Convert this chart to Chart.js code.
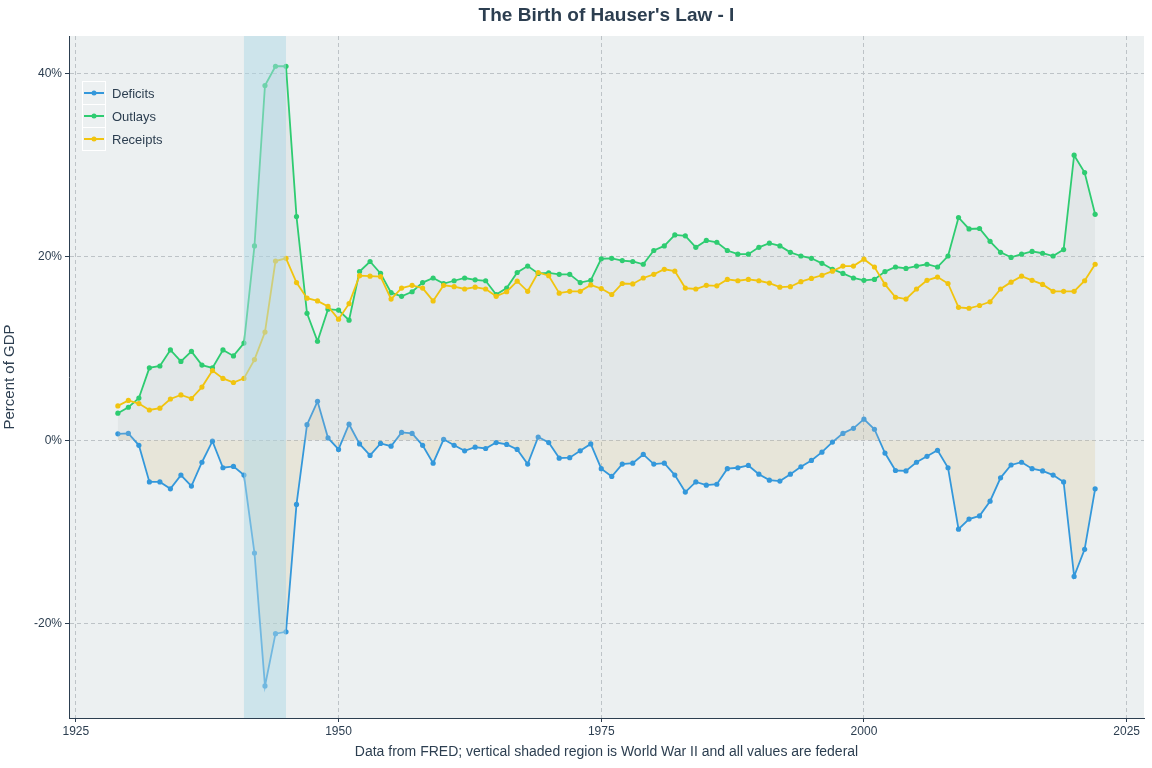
<!DOCTYPE html>
<html>
<head>
<meta charset="utf-8">
<script src="https://cdn.jsdelivr.net/npm/chart.js@4.4.0/dist/chart.umd.min.js"></script>
<style>
  html, body { margin: 0; padding: 0; background: #fff; }
  #wrap { width: 1152px; height: 768px; }
</style>
</head>
<body>
<div id="wrap"><canvas id="chart" width="1152" height="768"></canvas></div>
<script>
const years = [
  1929,
  1930, 1931, 1932, 1933, 1934, 1935, 1936, 1937, 1938, 1939,
  1940, 1941, 1942, 1943, 1944, 1945, 1946, 1947, 1948, 1949,
  1950, 1951, 1952, 1953, 1954, 1955, 1956, 1957, 1958, 1959,
  1960, 1961, 1962, 1963, 1964, 1965, 1966, 1967, 1968, 1969,
  1970, 1971, 1972, 1973, 1974, 1975, 1976, 1977, 1978, 1979,
  1980, 1981, 1982, 1983, 1984, 1985, 1986, 1987, 1988, 1989,
  1990, 1991, 1992, 1993, 1994, 1995, 1996, 1997, 1998, 1999,
  2000, 2001, 2002, 2003, 2004, 2005, 2006, 2007, 2008, 2009,
  2010, 2011, 2012, 2013, 2014, 2015, 2016, 2017, 2018, 2019,
  2020, 2021, 2022
];

const deficits = [
  0.7,
  0.75, -0.55, -4.55, -4.55, -5.3, -3.8, -5.0, -2.4, -0.1, -3.0,
  -2.85, -3.8, -12.3, -26.8, -21.1, -20.9, -7.0, 1.7, 4.25, 0.25,
  -1.0, 1.75, -0.4, -1.65, -0.35, -0.65, 0.85, 0.75, -0.55, -2.5,
  0.1, -0.55, -1.15, -0.75, -0.9, -0.25, -0.45, -1.0, -2.6, 0.35,
  -0.25, -1.95, -1.9, -1.15, -0.4, -3.1, -3.95, -2.6, -2.5, -1.55,
  -2.6, -2.5, -3.8, -5.65, -4.55, -4.9, -4.8, -3.1, -3.0, -2.75,
  -3.7, -4.35, -4.45, -3.7, -2.9, -2.2, -1.3, -0.2, 0.75, 1.3,
  2.3, 1.2, -1.4, -3.3, -3.35, -2.4, -1.75, -1.1, -3.0, -9.7,
  -8.6, -8.25, -6.65, -4.1, -2.7, -2.4, -3.1, -3.35, -3.8, -4.55,
  -14.85, -11.9, -5.3
];

const outlays = [
  2.95,
  3.6, 4.6, 7.9, 8.1, 9.85, 8.6, 9.7, 8.2, 7.9, 9.85,
  9.2, 10.6, 21.2, 38.7, 40.8, 40.8, 24.4, 13.85, 10.8, 14.3,
  14.2, 13.1, 18.4, 19.5, 18.2, 16.1, 15.7, 16.2, 17.2, 17.7,
  17.1, 17.4, 17.7, 17.5, 17.4, 15.9, 16.6, 18.3, 19.0, 18.2,
  18.25, 18.1, 18.1, 17.2, 17.45, 19.8, 19.85, 19.6, 19.5, 19.2,
  20.7, 21.2, 22.4, 22.3, 21.05, 21.8, 21.6, 20.7, 20.3, 20.3,
  21.05, 21.5, 21.2, 20.5, 20.1, 19.85, 19.3, 18.65, 18.2, 17.7,
  17.45, 17.55, 18.4, 18.9, 18.75, 19.0, 19.2, 18.9, 20.1, 24.3,
  23.05, 23.1, 21.7, 20.5, 19.95, 20.3, 20.6, 20.4, 20.1, 20.8,
  31.1, 29.2, 24.65
];

const receipts = [
  3.75,
  4.35, 4.0, 3.3, 3.5, 4.5, 4.95, 4.55, 5.8, 7.6, 6.75,
  6.3, 6.75, 8.8, 11.8, 19.55, 19.85, 17.2, 15.5, 15.2, 14.6,
  13.2, 14.9, 17.95, 17.9, 17.85, 15.4, 16.6, 16.9, 16.6, 15.2,
  16.9, 16.75, 16.5, 16.7, 16.5, 15.7, 16.2, 17.35, 16.25, 18.3,
  17.95, 16.05, 16.25, 16.25, 16.95, 16.55, 15.9, 17.1, 17.05, 17.7,
  18.1, 18.65, 18.45, 16.6, 16.5, 16.9, 16.85, 17.55, 17.4, 17.55,
  17.4, 17.15, 16.7, 16.75, 17.3, 17.65, 18.0, 18.45, 19.0, 19.0,
  19.75, 18.9, 17.0, 15.6, 15.4, 16.5, 17.45, 17.8, 17.1, 14.5,
  14.4, 14.7, 15.1, 16.5, 17.25, 17.9, 17.45, 17.0, 16.25, 16.25,
  16.25, 17.4, 19.2
];

const xTicks = [1925, 1950, 1975, 2000, 2025];
const yTicks = [-20, 0, 20, 40];
const warYears = [1941, 1945];

const FONT = '"Liberation Sans", Arial, sans-serif';
const INK = '#2C3E50';
const BLUE = '#3498DB', GREEN = '#2ECC71', YELLOW = '#F1C40F';

const pts = (vals) => years.map((y, i) => ({ x: y, y: vals[i] }));

// panel background, white around it
const panelBg = {
  id: 'panelBg',
  beforeDraw(chart) {
    const { ctx, chartArea: a } = chart;
    ctx.save();
    ctx.fillStyle = '#ffffff';
    ctx.fillRect(0, 0, chart.width, chart.height);
    ctx.fillStyle = '#ECF0F1';
    ctx.fillRect(a.left, a.top, a.right - a.left, a.bottom - a.top);
    ctx.restore();
  }
};

// WWII band goes over the lines
const warBand = {
  id: 'warBand',
  afterDatasetsDraw(chart) {
    const { ctx, chartArea: a, scales: { x } } = chart;
    const x1 = x.getPixelForValue(warYears[0]);
    const x2 = x.getPixelForValue(warYears[1]);
    ctx.save();
    ctx.fillStyle = 'rgba(173,216,230,0.5)';
    ctx.fillRect(x1, a.top, x2 - x1, a.bottom - a.top);
    ctx.restore();
  }
};

const texts = {
  id: 'texts',
  afterDraw(chart) {
    const { ctx, chartArea: a } = chart;
    const cx = (a.left + a.right) / 2;
    ctx.save();
    ctx.fillStyle = INK;
    ctx.textAlign = 'center';
    ctx.textBaseline = 'middle';
    ctx.font = 'bold 19px ' + FONT;
    ctx.fillText("The Birth of Hauser's Law - I", cx, 16);
    ctx.font = '14px ' + FONT;
    ctx.fillText('Data from FRED; vertical shaded region is World War II and all values are federal', cx, 752);
    ctx.translate(10, (a.top + a.bottom) / 2);
    ctx.rotate(-Math.PI / 2);
    ctx.font = '15px ' + FONT;
    ctx.fillText('Percent of GDP', 0, 0);
    ctx.restore();

    // legend inside the panel
    const items = [['Deficits', BLUE], ['Outlays', GREEN], ['Receipts', YELLOW]];
    ctx.save();
    items.forEach(([label, col], i) => {
      const kx = 82, ky = 81 + i * 23, kw = 23, kh = 23;
      ctx.strokeStyle = '#ffffff';
      ctx.lineWidth = 1;
      ctx.strokeRect(kx + 0.5, ky + 0.5, kw, kh);
      ctx.strokeStyle = col;
      ctx.lineWidth = 2;
      ctx.beginPath();
      ctx.moveTo(kx + 2, ky + kh / 2 + 0.5);
      ctx.lineTo(kx + kw - 1, ky + kh / 2 + 0.5);
      ctx.stroke();
      ctx.fillStyle = col;
      ctx.beginPath();
      ctx.arc(kx + kw / 2 + 0.5, ky + kh / 2 + 0.5, 2.5, 0, Math.PI * 2);
      ctx.fill();
      ctx.fillStyle = INK;
      ctx.font = '13px ' + FONT;
      ctx.textAlign = 'left';
      ctx.textBaseline = 'middle';
      ctx.fillText(label, 112, ky + kh / 2 + 1.5);
    });
    ctx.restore();
  }
};

const lineSet = (label, vals, col, fill) => ({
  label,
  data: pts(vals),
  borderColor: col,
  backgroundColor: fill || col,
  pointBackgroundColor: col,
  pointBorderWidth: 0,
  pointRadius: 2.6,
  borderWidth: 1.8,
  fill: fill ? 'origin' : false,
  tension: 0
});

new Chart(document.getElementById('chart'), {
  type: 'line',
  data: {
    datasets: [
      lineSet('Receipts', receipts, YELLOW),
      lineSet('Outlays', outlays, GREEN, 'rgba(189,195,199,0.2)'),
      lineSet('Deficits', deficits, BLUE, 'rgba(215,190,130,0.22)')
    ]
  },
  options: {
    responsive: false,
    animation: false,
    devicePixelRatio: 1,
    layout: { padding: { top: 36, right: 8, left: 0, bottom: 0 } },
    plugins: {
      legend: { display: false },
      title: { display: false },
      tooltip: { enabled: false }
    },
    scales: {
      x: {
        type: 'linear',
        min: 1924.35,
        max: 2026.65,
        afterFit: (s) => { s.height = 50; },
        afterBuildTicks: (s) => { s.ticks = xTicks.map(v => ({ value: v })); },
        ticks: {
          color: INK,
          font: { family: FONT, size: 12 },
          padding: 2,
          maxRotation: 0,
          callback: (v) => String(v)
        },
        grid: {
          color: '#BDC3C7',
          lineWidth: 1,
          tickLength: 4,
          tickColor: INK,
          tickBorderDash: []
        },
        border: { display: true, color: INK, width: 1, dash: [4, 3] }
      },
      y: {
        min: -30.3,
        max: 44.1,
        afterFit: (s) => { s.width = 69; },
        afterBuildTicks: (s) => { s.ticks = yTicks.map(v => ({ value: v })); },
        ticks: {
          color: INK,
          font: { family: FONT, size: 12 },
          padding: 3,
          callback: (v) => v + '%'
        },
        grid: {
          color: '#BDC3C7',
          lineWidth: 1,
          tickLength: 4,
          tickColor: INK,
          tickBorderDash: []
        },
        border: { display: true, color: INK, width: 1, dash: [4, 3] }
      }
    }
  },
  plugins: [panelBg, warBand, texts]
});
</script>
</body>
</html>
